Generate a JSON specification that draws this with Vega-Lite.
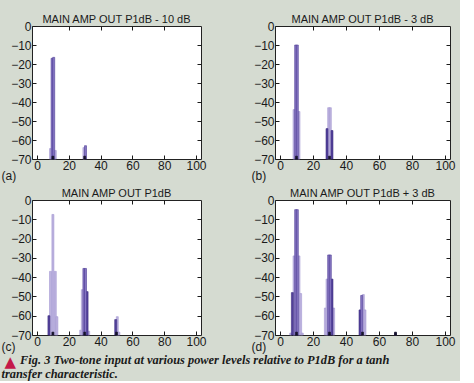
{
"$schema": "https://vega.github.io/schema/vega-lite/v6.json",
"padding": {"left": 0, "top": 13, "right": 4, "bottom": 0},
"datasets": {
"s": [
{"p":"a","f":8.5,"db":-64.5,"s":"light"},
{"p":"a","f":11.5,"db":-65.5,"s":"light"},
{"p":"a","f":29.5,"db":-64,"s":"light"},
{"p":"a","f":9.5,"db":-17,"s":"mid"},
{"p":"a","f":10.5,"db":-16.5,"s":"mid"},
{"p":"a","f":30.5,"db":-63,"s":"mid"},
{"p":"a","f":10,"db":-68.5,"s":"base"},
{"p":"a","f":30,"db":-68.5,"s":"base"},
{"p":"b","f":8.5,"db":-44,"s":"light"},
{"p":"b","f":11.5,"db":-45,"s":"light"},
{"p":"b","f":29.5,"db":-43,"s":"light"},
{"p":"b","f":30.5,"db":-43,"s":"light"},
{"p":"b","f":28.5,"db":-54,"s":"dark"},
{"p":"b","f":31.5,"db":-55,"s":"dark"},
{"p":"b","f":9.5,"db":-10,"s":"mid"},
{"p":"b","f":10.5,"db":-10,"s":"mid"},
{"p":"b","f":10,"db":-68.5,"s":"base"},
{"p":"b","f":30,"db":-68.5,"s":"base"},
{"p":"c","f":8.5,"db":-37,"s":"light"},
{"p":"c","f":11.5,"db":-37,"s":"light"},
{"p":"c","f":12.5,"db":-60.5,"s":"light"},
{"p":"c","f":10,"db":-7.5,"s":"light"},
{"p":"c","f":27.5,"db":-67.5,"s":"light"},
{"p":"c","f":28.5,"db":-46.5,"s":"light"},
{"p":"c","f":32.5,"db":-68,"s":"light"},
{"p":"c","f":50.5,"db":-60.5,"s":"light"},
{"p":"c","f":51.5,"db":-68.5,"s":"light"},
{"p":"c","f":7.5,"db":-60,"s":"dark"},
{"p":"c","f":31.5,"db":-47.5,"s":"dark"},
{"p":"c","f":49.5,"db":-62,"s":"dark"},
{"p":"c","f":29.5,"db":-35.5,"s":"mid"},
{"p":"c","f":30.5,"db":-35.5,"s":"mid"},
{"p":"c","f":10,"db":-68.5,"s":"base"},
{"p":"c","f":30,"db":-68.5,"s":"base"},
{"p":"c","f":50,"db":-68.5,"s":"base"},
{"p":"d","f":6.5,"db":-69,"s":"light"},
{"p":"d","f":8.5,"db":-29,"s":"light"},
{"p":"d","f":11.5,"db":-29,"s":"light"},
{"p":"d","f":12.5,"db":-48.5,"s":"light"},
{"p":"d","f":13.5,"db":-69,"s":"light"},
{"p":"d","f":27.5,"db":-56,"s":"light"},
{"p":"d","f":28.5,"db":-41,"s":"light"},
{"p":"d","f":32.5,"db":-56,"s":"light"},
{"p":"d","f":50.5,"db":-49,"s":"light"},
{"p":"d","f":51.5,"db":-57,"s":"light"},
{"p":"d","f":7.5,"db":-48,"s":"dark"},
{"p":"d","f":31.5,"db":-41,"s":"dark"},
{"p":"d","f":48.5,"db":-57,"s":"dark"},
{"p":"d","f":70,"db":-69,"s":"dark"},
{"p":"d","f":9.5,"db":-5,"s":"mid"},
{"p":"d","f":10.5,"db":-5,"s":"mid"},
{"p":"d","f":29.5,"db":-28.5,"s":"mid"},
{"p":"d","f":30.5,"db":-28.5,"s":"mid"},
{"p":"d","f":49.5,"db":-49.5,"s":"mid"},
{"p":"d","f":10,"db":-68.5,"s":"base"},
{"p":"d","f":30,"db":-68.5,"s":"base"},
{"p":"d","f":50,"db":-68.5,"s":"base"},
{"p":"d","f":70,"db":-68.5,"s":"base"}
]
},
"title": {"text": "▲", "orient": "bottom", "anchor": "start", "color": "#c4194a", "fontSize": 15, "font": "DejaVu Sans", "fontWeight": "normal", "dy": -25, "dx": 4, "offset": 0},
"vconcat": [
{
"title": {"text": ["\u200b\u00a0\u00a0\u00a0\u00a0\u00a0\u00a0Fig. 3  Two-tone input at various power levels relative to P1dB for a tanh", "transfer characteristic."], "orient": "bottom", "anchor": "start", "font": "Liberation Serif", "fontStyle": "italic", "fontWeight": "bold", "fontSize": 12.4, "lineHeight": 14.5, "color": "#1a1a1a", "offset": 1, "dx": 1},
"spacing": 5,
"vconcat": [
{"spacing": 43, "hconcat": [
{"width": 169, "height": 133, "data": {"name": "s"}, "transform": [{"filter": "datum.p == 'a'"}],
 "title": "MAIN AMP OUT P1dB - 10 dB",
 "layer": [
  {"mark": {"type": "bar", "width": 2, "strokeWidth": 0.6},
   "encoding": {
    "x": {"field": "f", "type": "quantitative", "scale": {"domain": [0, 100], "nice": false}, "axis": {"values": [0,20,40,60,80,100], "title": "(a)", "titleX": -31, "titleY": 16}},
    "y": {"field": "db", "type": "quantitative", "scale": {"domain": [-70, 0], "nice": false}, "axis": {"values": [0,-10,-20,-30,-40,-50,-60,-70], "title": null}},
    "y2": {"datum": -70},
    "fill": {"field": "s", "type": "nominal", "scale": {"domain": ["light","mid","dark","base"], "range": ["#bcb2de","#8676c2","#54429c","#15122a"]}, "legend": null},
    "stroke": {"field": "s", "type": "nominal", "scale": {"domain": ["light","mid","dark","base"], "range": ["#a598d3","#4e3d96","#3d2e80","#15122a"]}, "legend": null}
   }},
  {"mark": {"type": "point", "opacity": 0},
   "encoding": {
    "x": {"field": "f", "type": "quantitative", "axis": {"orient": "top", "values": [20,40,60,80], "labels": false, "title": null, "labelPadding": 0, "minExtent": 0, "maxExtent": 0}},
    "y": {"field": "db", "type": "quantitative", "axis": {"orient": "right", "values": [-10,-20,-30,-40,-50,-60], "labels": false, "title": null, "labelPadding": 0, "minExtent": 0, "maxExtent": 0}}
   }}
 ],
 "resolve": {"axis": {"x": "independent", "y": "independent"}}
},
{"width": 175, "height": 133, "data": {"name": "s"}, "transform": [{"filter": "datum.p == 'b'"}],
 "title": "MAIN AMP OUT P1dB - 3 dB",
 "layer": [
  {"mark": {"type": "bar", "width": 2, "strokeWidth": 0.6},
   "encoding": {
    "x": {"field": "f", "type": "quantitative", "scale": {"domain": [0, 100], "nice": false}, "axis": {"values": [0,20,40,60,80,100], "title": "(b)", "titleX": -24, "titleY": 16}},
    "y": {"field": "db", "type": "quantitative", "scale": {"domain": [-70, 0], "nice": false}, "axis": {"values": [0,-10,-20,-30,-40,-50,-60,-70], "title": null}},
    "y2": {"datum": -70},
    "fill": {"field": "s", "type": "nominal", "legend": null},
    "stroke": {"field": "s", "type": "nominal", "legend": null}
   }},
  {"mark": {"type": "point", "opacity": 0},
   "encoding": {
    "x": {"field": "f", "type": "quantitative", "axis": {"orient": "top", "values": [20,40,60,80], "labels": false, "title": null, "labelPadding": 0, "minExtent": 0, "maxExtent": 0}},
    "y": {"field": "db", "type": "quantitative", "axis": {"orient": "right", "values": [-10,-20,-30,-40,-50,-60], "labels": false, "title": null, "labelPadding": 0, "minExtent": 0, "maxExtent": 0}}
   }}
 ],
 "resolve": {"axis": {"x": "independent", "y": "independent"}}
}
]},
{"spacing": 43, "hconcat": [
{"width": 169, "height": 135, "data": {"name": "s"}, "transform": [{"filter": "datum.p == 'c'"}],
 "title": "MAIN AMP OUT P1dB",
 "layer": [
  {"mark": {"type": "bar", "width": 2, "strokeWidth": 0.6},
   "encoding": {
    "x": {"field": "f", "type": "quantitative", "scale": {"domain": [0, 100], "nice": false}, "axis": {"values": [0,20,40,60,80,100], "title": "(c)", "titleX": -31, "titleY": 11}},
    "y": {"field": "db", "type": "quantitative", "scale": {"domain": [-70, 0], "nice": false}, "axis": {"values": [0,-10,-20,-30,-40,-50,-60,-70], "title": null}},
    "y2": {"datum": -70},
    "fill": {"field": "s", "type": "nominal", "legend": null},
    "stroke": {"field": "s", "type": "nominal", "legend": null}
   }},
  {"mark": {"type": "point", "opacity": 0},
   "encoding": {
    "x": {"field": "f", "type": "quantitative", "axis": {"orient": "top", "values": [20,40,60,80], "labels": false, "title": null, "labelPadding": 0, "minExtent": 0, "maxExtent": 0}},
    "y": {"field": "db", "type": "quantitative", "axis": {"orient": "right", "values": [-10,-20,-30,-40,-50,-60], "labels": false, "title": null, "labelPadding": 0, "minExtent": 0, "maxExtent": 0}}
   }}
 ],
 "resolve": {"axis": {"x": "independent", "y": "independent"}}
},
{"width": 175, "height": 135, "data": {"name": "s"}, "transform": [{"filter": "datum.p == 'd'"}],
 "title": "MAIN AMP OUT P1dB + 3 dB",
 "layer": [
  {"mark": {"type": "bar", "width": 2, "strokeWidth": 0.6},
   "encoding": {
    "x": {"field": "f", "type": "quantitative", "scale": {"domain": [0, 100], "nice": false}, "axis": {"values": [0,20,40,60,80,100], "title": "(d)", "titleX": -24, "titleY": 11}},
    "y": {"field": "db", "type": "quantitative", "scale": {"domain": [-70, 0], "nice": false}, "axis": {"values": [0,-10,-20,-30,-40,-50,-60,-70], "title": null}},
    "y2": {"datum": -70},
    "fill": {"field": "s", "type": "nominal", "legend": null},
    "stroke": {"field": "s", "type": "nominal", "legend": null}
   }},
  {"mark": {"type": "point", "opacity": 0},
   "encoding": {
    "x": {"field": "f", "type": "quantitative", "axis": {"orient": "top", "values": [20,40,60,80], "labels": false, "title": null, "labelPadding": 0, "minExtent": 0, "maxExtent": 0}},
    "y": {"field": "db", "type": "quantitative", "axis": {"orient": "right", "values": [-10,-20,-30,-40,-50,-60], "labels": false, "title": null, "labelPadding": 0, "minExtent": 0, "maxExtent": 0}}
   }}
 ],
 "resolve": {"axis": {"x": "independent", "y": "independent"}}
}
]}
]
}
],
"config": {
 "background": "#d5dbd1",
 "view": {"stroke": "#222222", "strokeWidth": 1, "fill": "#ffffff"},
 "axis": {"labelFont": "Liberation Sans", "labelFontSize": 12, "labelColor": "#1a1a1a", "tickColor": "#1a1a1a", "tickSize": -4, "labelPadding": 5, "domain": false, "grid": false, "labelFlush": false, "labelOverlap": false, "titleFont": "Liberation Sans", "titleFontSize": 12, "titleFontWeight": "normal", "titleColor": "#1a1a1a", "titleAlign": "left", "titleBaseline": "middle", "titleAngle": 0},
 "title": {"font": "Liberation Sans", "fontSize": 11, "fontWeight": "normal", "color": "#1a1a1a", "offset": -5}
}
}
